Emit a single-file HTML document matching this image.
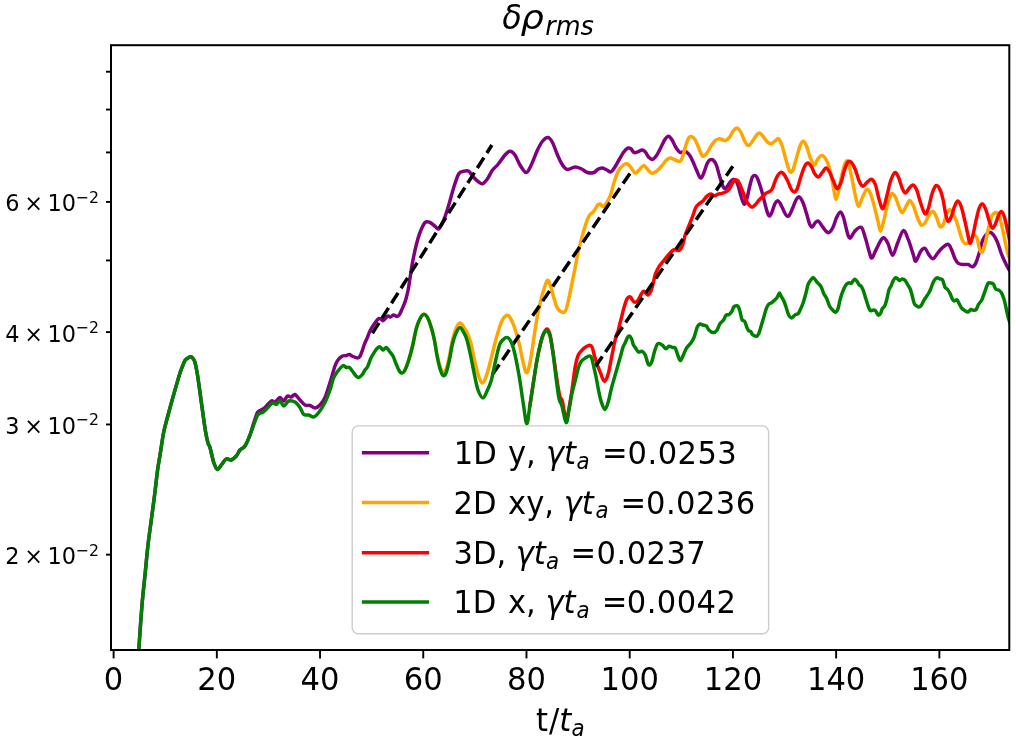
<!DOCTYPE html>
<html><head><meta charset="utf-8"><style>
html,body{margin:0;padding:0;background:#fff;}
svg{display:block;}
text{font-family:"DejaVu Sans","Liberation Sans",sans-serif;fill:#000;}
</style></head><body>
<svg width="1016" height="738" viewBox="0 0 1016 738">
<defs><clipPath id="ax"><rect x="111.0" y="45.2" width="898.30" height="604.80"/></clipPath></defs>
<rect width="1016" height="738" fill="#fff"/>
<g clip-path="url(#ax)">
<path d="M138.80,649.40 C139.33,642.00 140.97,617.40 142.00,605.00 C143.03,592.60 144.00,585.00 145.00,575.00 C146.00,565.00 146.95,554.17 148.00,545.00 C149.05,535.83 150.20,528.33 151.30,520.00 C152.40,511.67 153.55,503.33 154.60,495.00 C155.65,486.67 156.62,477.17 157.60,470.00 C158.58,462.83 159.47,458.33 160.50,452.00 C161.53,445.67 162.38,438.58 163.75,432.00 C165.12,425.42 166.88,419.50 168.75,412.50 C170.62,405.50 173.12,396.58 175.00,390.00 C176.88,383.42 178.75,376.96 180.00,373.00 C181.25,369.04 181.67,368.33 182.50,366.25 C183.33,364.17 184.08,361.88 185.00,360.50 C185.92,359.12 187.00,358.62 188.00,358.00 C189.00,357.38 190.17,356.72 191.00,356.80 C191.83,356.88 192.33,357.55 193.00,358.50 C193.67,359.45 194.25,359.75 195.00,362.50 C195.75,365.25 196.67,370.00 197.50,375.00 C198.33,380.00 199.07,385.83 200.00,392.50 C200.93,399.17 202.17,408.42 203.10,415.00 C204.03,421.58 204.78,427.33 205.60,432.00 C206.42,436.67 207.27,440.42 208.00,443.00 C208.73,445.58 209.04,444.25 210.00,447.50 C210.96,450.75 212.50,458.83 213.75,462.50 C215.00,466.17 216.25,469.08 217.50,469.50 C218.75,469.92 219.79,466.75 221.25,465.00 C222.71,463.25 224.58,459.83 226.25,459.00 C227.92,458.17 229.58,460.50 231.25,460.00 C232.92,459.50 234.79,457.67 236.25,456.00 C237.71,454.33 238.54,451.67 240.00,450.00 C241.46,448.33 243.33,448.50 245.00,446.00 C246.67,443.50 248.50,439.00 250.00,435.00 C251.50,431.00 252.75,425.75 254.00,422.00 C255.25,418.25 256.33,414.50 257.50,412.50 C258.67,410.50 259.75,410.83 261.00,410.00 C262.25,409.17 263.29,409.00 265.00,407.50 C266.71,406.00 269.58,401.92 271.25,401.00 C272.92,400.08 273.54,402.58 275.00,402.00 C276.46,401.42 278.54,397.67 280.00,397.50 C281.46,397.33 282.50,401.25 283.75,401.00 C285.00,400.75 286.25,396.67 287.50,396.00 C288.75,395.33 290.00,397.25 291.25,397.00 C292.50,396.75 293.54,394.00 295.00,394.50 C296.46,395.00 298.33,398.25 300.00,400.00 C301.67,401.75 303.33,404.08 305.00,405.00 C306.67,405.92 308.33,405.00 310.00,405.50 C311.67,406.00 313.33,408.08 315.00,408.00 C316.67,407.92 318.33,406.75 320.00,405.00 C321.67,403.25 323.33,401.25 325.00,397.50 C326.67,393.75 328.33,387.75 330.00,382.50 C331.67,377.25 333.67,369.75 335.00,366.00 C336.33,362.25 336.75,361.67 338.00,360.00 C339.25,358.33 341.12,356.73 342.50,356.00 C343.88,355.27 345.10,355.87 346.25,355.60 C347.40,355.33 348.36,354.29 349.40,354.40 C350.44,354.51 351.15,355.63 352.50,356.25 C353.85,356.87 356.25,358.10 357.50,358.10 C358.75,358.10 359.17,357.60 360.00,356.25 C360.83,354.90 361.82,351.88 362.50,350.00 C363.18,348.12 363.32,347.03 364.10,345.00 C364.88,342.97 366.18,340.22 367.20,337.80 C368.22,335.38 369.08,332.73 370.20,330.50 C371.32,328.27 372.67,326.23 373.90,324.40 C375.13,322.57 376.58,320.47 377.60,319.50 C378.62,318.53 379.10,318.40 380.00,318.60 C380.90,318.80 382.08,320.75 383.00,320.70 C383.92,320.65 384.68,319.10 385.50,318.30 C386.32,317.50 387.08,316.10 387.90,315.90 C388.72,315.70 389.48,317.27 390.40,317.10 C391.32,316.93 392.28,315.00 393.40,314.90 C394.52,314.80 396.08,316.55 397.10,316.50 C398.12,316.45 398.68,315.83 399.50,314.60 C400.32,313.37 401.18,310.92 402.00,309.10 C402.82,307.28 403.65,305.72 404.40,303.70 C405.15,301.68 405.82,299.62 406.50,297.00 C407.18,294.38 407.83,291.67 408.50,288.00 C409.17,284.33 409.83,279.25 410.50,275.00 C411.17,270.75 411.54,267.50 412.50,262.50 C413.46,257.50 415.00,250.00 416.25,245.00 C417.50,240.00 418.54,236.25 420.00,232.50 C421.46,228.75 423.33,224.17 425.00,222.50 C426.67,220.83 428.33,221.88 430.00,222.50 C431.67,223.12 433.54,225.21 435.00,226.25 C436.46,227.29 437.29,229.79 438.75,228.75 C440.21,227.71 442.08,223.96 443.75,220.00 C445.42,216.04 447.08,210.42 448.75,205.00 C450.42,199.58 452.08,192.71 453.75,187.50 C455.42,182.29 457.08,176.46 458.75,173.75 C460.42,171.04 462.08,171.67 463.75,171.25 C465.42,170.83 467.08,170.21 468.75,171.25 C470.42,172.29 472.08,175.71 473.75,177.50 C475.42,179.29 477.29,180.96 478.75,182.00 C480.21,183.04 481.04,184.29 482.50,183.75 C483.96,183.21 485.83,181.04 487.50,178.75 C489.17,176.46 490.83,172.29 492.50,170.00 C494.17,167.71 495.42,167.50 497.50,165.00 C499.58,162.50 502.92,157.29 505.00,155.00 C507.08,152.71 508.33,151.25 510.00,151.25 C511.67,151.25 513.33,152.71 515.00,155.00 C516.67,157.29 518.12,162.08 520.00,165.00 C521.88,167.92 524.38,172.50 526.25,172.50 C528.12,172.50 529.38,168.75 531.25,165.00 C533.12,161.25 535.62,153.96 537.50,150.00 C539.38,146.04 540.75,143.33 542.50,141.25 C544.25,139.17 546.33,137.29 548.00,137.50 C549.67,137.71 550.92,139.58 552.50,142.50 C554.08,145.42 555.83,151.25 557.50,155.00 C559.17,158.75 560.83,162.58 562.50,165.00 C564.17,167.42 565.42,169.17 567.50,169.50 C569.58,169.83 572.71,167.12 575.00,167.00 C577.29,166.88 579.17,167.83 581.25,168.75 C583.33,169.67 585.38,171.88 587.50,172.50 C589.62,173.12 592.29,173.02 594.00,172.50 C595.71,171.98 596.40,170.13 597.75,169.40 C599.10,168.67 600.64,168.04 602.10,168.10 C603.56,168.16 605.03,169.12 606.50,169.75 C607.97,170.38 609.55,172.28 610.90,171.90 C612.25,171.53 613.25,169.48 614.60,167.50 C615.95,165.52 617.53,162.50 619.00,160.00 C620.47,157.50 621.94,154.48 623.40,152.50 C624.86,150.52 626.50,148.72 627.75,148.10 C629.00,147.47 629.86,148.02 630.90,148.75 C631.94,149.48 632.86,151.97 634.00,152.50 C635.14,153.03 636.40,152.32 637.75,151.90 C639.10,151.48 640.85,150.00 642.10,150.00 C643.35,150.00 644.10,150.65 645.25,151.90 C646.40,153.15 647.75,156.25 649.00,157.50 C650.25,158.75 651.50,159.72 652.75,159.40 C654.00,159.08 655.25,157.38 656.50,155.60 C657.75,153.82 658.90,151.35 660.25,148.75 C661.60,146.15 663.24,142.08 664.60,140.00 C665.96,137.92 667.15,136.25 668.40,136.25 C669.65,136.25 670.85,138.12 672.10,140.00 C673.35,141.88 674.54,145.42 675.90,147.50 C677.26,149.58 678.80,151.88 680.25,152.50 C681.70,153.12 683.14,150.93 684.60,151.25 C686.06,151.57 687.64,152.73 689.00,154.40 C690.36,156.07 691.50,158.65 692.75,161.25 C694.00,163.85 695.29,167.29 696.50,170.00 C697.71,172.71 699.02,176.45 700.00,177.50 C700.98,178.55 701.58,177.58 702.40,176.30 C703.22,175.02 704.08,171.97 704.90,169.80 C705.72,167.63 706.49,164.93 707.30,163.30 C708.11,161.67 708.80,160.55 709.75,160.00 C710.70,159.45 711.91,159.18 713.00,160.00 C714.09,160.82 715.28,162.47 716.30,164.90 C717.32,167.33 718.30,171.90 719.10,174.60 C719.90,177.30 720.42,179.07 721.10,181.10 C721.78,183.13 722.52,185.57 723.20,186.80 C723.88,188.03 724.47,188.63 725.20,188.50 C725.93,188.37 726.65,187.23 727.60,186.00 C728.55,184.77 729.95,182.18 730.90,181.10 C731.85,180.02 732.48,179.63 733.30,179.50 C734.12,179.37 734.98,179.22 735.80,180.30 C736.62,181.38 737.39,183.55 738.20,186.00 C739.01,188.45 739.83,192.28 740.65,195.00 C741.47,197.72 742.42,200.82 743.10,202.30 C743.78,203.78 744.02,204.72 744.70,203.90 C745.38,203.08 746.38,200.25 747.20,197.40 C748.02,194.55 748.73,190.18 749.60,186.80 C750.47,183.42 751.52,179.00 752.40,177.10 C753.28,175.20 754.08,175.27 754.90,175.40 C755.72,175.53 756.42,176.13 757.30,177.90 C758.18,179.67 759.32,183.30 760.20,186.00 C761.08,188.70 761.80,191.12 762.60,194.10 C763.40,197.08 764.18,200.78 765.00,203.90 C765.82,207.02 766.75,210.77 767.50,212.80 C768.25,214.83 768.75,216.23 769.50,216.10 C770.25,215.97 771.12,214.03 772.00,212.00 C772.88,209.97 773.87,205.78 774.80,203.90 C775.73,202.02 776.73,200.83 777.60,200.70 C778.47,200.57 779.23,201.97 780.00,203.10 C780.77,204.23 781.25,205.52 782.25,207.50 C783.25,209.48 784.86,213.65 786.00,215.00 C787.14,216.35 787.95,216.85 789.10,215.60 C790.25,214.35 791.75,210.10 792.90,207.50 C794.05,204.90 794.97,201.77 796.00,200.00 C797.03,198.23 797.95,196.48 799.10,196.90 C800.25,197.32 801.65,199.69 802.90,202.50 C804.15,205.31 805.46,210.10 806.60,213.75 C807.74,217.40 808.81,222.21 809.75,224.40 C810.69,226.59 811.31,227.22 812.25,226.90 C813.19,226.58 814.36,223.44 815.40,222.50 C816.44,221.56 817.36,220.62 818.50,221.25 C819.64,221.88 821.00,224.58 822.25,226.25 C823.50,227.92 824.86,230.21 826.00,231.25 C827.14,232.29 827.95,233.12 829.10,232.50 C830.25,231.88 831.65,230.00 832.90,227.50 C834.15,225.00 835.35,220.10 836.60,217.50 C837.85,214.90 839.25,211.90 840.40,211.90 C841.55,211.90 842.57,214.90 843.50,217.50 C844.43,220.10 845.25,224.58 846.00,227.50 C846.75,230.42 847.25,233.25 848.00,235.00 C848.75,236.75 849.40,238.60 850.50,238.00 C851.60,237.40 852.82,233.18 854.60,231.40 C856.38,229.62 859.40,226.20 861.20,227.30 C863.00,228.40 864.02,233.73 865.40,238.00 C866.78,242.27 868.40,249.58 869.50,252.90 C870.60,256.22 870.90,258.45 872.00,257.90 C873.10,257.35 874.32,252.92 876.10,249.60 C877.88,246.28 880.77,239.10 882.70,238.00 C884.63,236.90 886.05,240.10 887.70,243.00 C889.35,245.90 890.95,255.40 892.60,255.40 C894.25,255.40 895.80,247.13 897.60,243.00 C899.40,238.87 901.62,231.15 903.40,230.60 C905.18,230.05 906.65,235.70 908.30,239.70 C909.95,243.70 912.05,251.02 913.30,254.60 C914.55,258.18 914.56,261.76 915.80,261.20 C917.04,260.64 919.22,253.38 920.75,251.25 C922.28,249.12 923.71,247.93 925.00,248.40 C926.29,248.88 927.15,252.38 928.50,254.10 C929.85,255.82 931.57,258.93 933.10,258.75 C934.63,258.57 936.17,254.82 937.70,253.00 C939.23,251.18 940.58,249.25 942.30,247.80 C944.02,246.35 946.47,244.02 948.00,244.30 C949.53,244.58 950.33,247.09 951.50,249.50 C952.67,251.91 953.85,256.43 955.00,258.75 C956.15,261.07 957.07,262.44 958.40,263.40 C959.73,264.36 961.37,264.32 963.00,264.50 C964.63,264.68 966.67,264.12 968.20,264.50 C969.73,264.88 970.95,266.98 972.20,266.80 C973.45,266.62 974.53,265.70 975.70,263.40 C976.87,261.10 978.05,256.85 979.20,253.00 C980.35,249.15 981.45,243.37 982.60,240.30 C983.75,237.23 984.85,235.95 986.10,234.60 C987.35,233.25 988.77,232.02 990.10,232.20 C991.43,232.38 992.85,233.97 994.10,235.70 C995.35,237.43 996.43,239.72 997.60,242.60 C998.77,245.48 999.95,249.92 1001.10,253.00 C1002.25,256.08 1003.35,258.60 1004.50,261.10 C1005.65,263.60 1006.92,266.02 1008.00,268.00 C1009.08,269.98 1010.50,272.17 1011.00,273.00" fill="none" stroke="#800080" stroke-width="3.47" stroke-linejoin="round" stroke-linecap="square"/>
<line x1="372.40" y1="333.30" x2="491.90" y2="145.00" stroke="#000" stroke-width="3.47" stroke-dasharray="12.3 5.5" stroke-linecap="butt"/>
<path d="M405.00,370.00 C405.62,368.33 407.50,363.96 408.75,360.00 C410.00,356.04 411.25,351.46 412.50,346.25 C413.75,341.04 415.00,333.33 416.25,328.75 C417.50,324.17 418.75,321.21 420.00,318.75 C421.25,316.29 422.50,314.21 423.75,314.00 C425.00,313.79 426.25,315.25 427.50,317.50 C428.75,319.75 430.10,323.75 431.25,327.50 C432.40,331.25 433.46,335.58 434.40,340.00 C435.34,344.42 435.97,349.67 436.90,354.00 C437.83,358.33 438.97,363.00 440.00,366.00 C441.03,369.00 442.06,371.50 443.10,372.00 C444.14,372.50 445.20,371.67 446.25,369.00 C447.30,366.33 448.36,360.83 449.40,356.00 C450.44,351.17 451.36,344.67 452.50,340.00 C453.64,335.33 455.00,330.83 456.25,328.00 C457.50,325.17 458.75,323.17 460.00,323.00 C461.25,322.83 462.58,325.42 463.75,327.00 C464.92,328.58 465.83,329.92 467.00,332.50 C468.17,335.08 469.50,337.92 470.75,342.50 C472.00,347.08 473.25,354.58 474.50,360.00 C475.75,365.42 477.00,371.17 478.25,375.00 C479.50,378.83 480.75,382.58 482.00,383.00 C483.25,383.42 484.29,381.33 485.75,377.50 C487.21,373.67 489.08,366.25 490.75,360.00 C492.42,353.75 494.08,346.04 495.75,340.00 C497.42,333.96 499.29,327.60 500.75,323.75 C502.21,319.90 503.25,318.26 504.50,316.90 C505.75,315.54 507.00,314.88 508.25,315.60 C509.50,316.33 510.75,318.64 512.00,321.25 C513.25,323.86 514.50,327.29 515.75,331.25 C517.00,335.21 518.36,340.21 519.50,345.00 C520.64,349.79 521.56,355.50 522.60,360.00 C523.64,364.50 524.81,370.33 525.75,372.00 C526.69,373.67 527.31,372.83 528.25,370.00 C529.19,367.17 530.36,361.04 531.40,355.00 C532.44,348.96 533.47,340.42 534.50,333.75 C535.53,327.08 536.68,319.96 537.60,315.00 C538.52,310.04 539.20,307.45 540.00,304.00 C540.80,300.55 541.18,298.22 542.40,294.30 C543.62,290.38 545.93,281.85 547.30,280.50 C548.67,279.15 549.52,283.35 550.60,286.20 C551.68,289.05 552.58,293.82 553.80,297.60 C555.02,301.38 556.13,306.47 557.90,308.90 C559.67,311.33 562.78,313.00 564.40,312.20 C566.02,311.40 566.38,308.70 567.60,304.10 C568.82,299.50 570.47,290.57 571.70,284.60 C572.93,278.63 573.92,273.73 575.00,268.30 C576.08,262.87 577.12,256.88 578.20,252.00 C579.28,247.12 580.42,243.07 581.50,239.00 C582.58,234.93 583.48,231.38 584.70,227.60 C585.92,223.82 587.30,219.00 588.80,216.30 C590.30,213.60 592.22,213.30 593.70,211.40 C595.18,209.50 596.65,206.13 597.70,204.90 C598.75,203.67 599.05,203.72 600.00,204.00 C600.95,204.28 602.11,207.10 603.40,206.60 C604.69,206.10 606.50,203.10 607.75,201.00 C609.00,198.90 610.11,196.17 610.90,194.00 C611.69,191.83 611.77,190.54 612.50,188.00 C613.23,185.46 614.17,181.75 615.25,178.75 C616.33,175.75 617.64,172.29 619.00,170.00 C620.36,167.71 622.05,166.04 623.40,165.00 C624.75,163.96 625.85,163.33 627.10,163.75 C628.35,164.17 629.54,165.94 630.90,167.50 C632.26,169.06 633.90,172.68 635.25,173.10 C636.60,173.52 637.64,171.25 639.00,170.00 C640.36,168.75 642.05,165.81 643.40,165.60 C644.75,165.39 645.75,167.50 647.10,168.75 C648.45,170.00 649.93,172.68 651.50,173.10 C653.07,173.52 654.83,172.39 656.50,171.25 C658.17,170.11 659.83,168.12 661.50,166.25 C663.17,164.38 665.04,161.36 666.50,160.00 C667.96,158.64 668.79,158.10 670.25,158.10 C671.71,158.10 673.58,159.47 675.25,160.00 C676.92,160.53 679.00,161.88 680.25,161.25 C681.50,160.62 681.81,158.96 682.75,156.25 C683.69,153.54 684.86,148.12 685.90,145.00 C686.94,141.88 687.97,138.85 689.00,137.50 C690.03,136.15 691.06,136.48 692.10,136.90 C693.14,137.32 694.10,138.03 695.25,140.00 C696.40,141.97 697.75,146.04 699.00,148.75 C700.25,151.46 701.50,155.42 702.75,156.25 C704.00,157.08 705.14,155.42 706.50,153.75 C707.86,152.08 709.44,148.44 710.90,146.25 C712.36,144.06 713.90,141.85 715.25,140.60 C716.60,139.35 718.04,139.02 719.00,138.75 C719.96,138.48 719.93,138.69 721.00,139.00 C722.07,139.31 723.94,140.95 725.40,140.60 C726.86,140.25 728.40,138.57 729.75,136.90 C731.10,135.23 732.25,132.07 733.50,130.60 C734.75,129.13 736.00,127.78 737.25,128.10 C738.50,128.42 739.75,130.31 741.00,132.50 C742.25,134.69 743.50,139.07 744.75,141.25 C746.00,143.43 747.14,145.71 748.50,145.60 C749.86,145.49 751.55,142.37 752.90,140.60 C754.25,138.83 755.46,136.25 756.60,135.00 C757.74,133.75 758.60,132.78 759.75,133.10 C760.90,133.42 762.25,135.43 763.50,136.90 C764.75,138.37 766.00,140.76 767.25,141.90 C768.50,143.04 769.75,143.86 771.00,143.75 C772.25,143.64 773.50,142.08 774.75,141.25 C776.00,140.42 777.25,137.92 778.50,138.75 C779.75,139.58 781.00,142.71 782.25,146.25 C783.50,149.79 784.75,155.83 786.00,160.00 C787.25,164.17 788.60,169.58 789.75,171.25 C790.90,172.92 791.76,172.29 792.90,170.00 C794.04,167.71 795.35,161.67 796.60,157.50 C797.85,153.33 799.25,147.71 800.40,145.00 C801.55,142.29 802.47,141.04 803.50,141.25 C804.53,141.46 805.56,143.75 806.60,146.25 C807.64,148.75 808.50,153.12 809.75,156.25 C811.00,159.38 812.85,164.38 814.10,165.00 C815.35,165.62 816.10,161.57 817.25,160.00 C818.40,158.43 819.75,156.02 821.00,155.60 C822.25,155.18 823.50,155.93 824.75,157.50 C826.00,159.07 827.36,161.67 828.50,165.00 C829.64,168.33 830.67,173.12 831.60,177.50 C832.53,181.88 833.37,187.60 834.10,191.25 C834.83,194.90 835.27,199.40 836.00,199.40 C836.73,199.40 837.67,194.69 838.50,191.25 C839.33,187.81 840.07,182.92 841.00,178.75 C841.93,174.58 843.18,169.21 844.10,166.25 C845.02,163.29 845.77,161.54 846.50,161.00 C847.23,160.46 847.62,160.25 848.50,163.00 C849.38,165.75 850.58,171.96 851.75,177.50 C852.92,183.04 854.36,191.46 855.50,196.25 C856.64,201.04 857.45,206.04 858.60,206.25 C859.75,206.46 861.04,200.31 862.40,197.50 C863.76,194.69 865.40,190.03 866.75,189.40 C868.10,188.78 869.25,190.94 870.50,193.75 C871.75,196.56 873.00,201.67 874.25,206.25 C875.50,210.83 876.96,217.08 878.00,221.25 C879.04,225.42 879.57,231.25 880.50,231.25 C881.43,231.25 882.35,226.04 883.60,221.25 C884.85,216.46 886.64,207.08 888.00,202.50 C889.36,197.92 890.50,194.58 891.75,193.75 C893.00,192.92 894.25,195.21 895.50,197.50 C896.75,199.79 898.10,205.00 899.25,207.50 C900.40,210.00 901.15,212.92 902.40,212.50 C903.65,212.08 905.50,206.98 906.75,205.00 C908.00,203.02 908.76,200.39 909.90,200.60 C911.04,200.81 912.35,203.43 913.60,206.25 C914.85,209.07 916.15,214.38 917.40,217.50 C918.65,220.62 919.83,224.08 921.10,225.00 C922.37,225.92 923.68,224.67 925.00,223.00 C926.32,221.33 927.65,216.92 929.00,215.00 C930.35,213.08 931.85,211.12 933.10,211.50 C934.35,211.88 935.35,214.80 936.50,217.30 C937.65,219.80 938.85,225.35 940.00,226.50 C941.15,227.65 942.25,226.50 943.40,224.20 C944.55,221.90 945.83,215.10 946.90,212.70 C947.97,210.30 948.75,209.62 949.80,209.80 C950.85,209.98 952.05,211.78 953.20,213.80 C954.35,215.82 955.55,218.63 956.70,221.90 C957.85,225.17 959.05,230.13 960.10,233.40 C961.15,236.67 962.03,239.77 963.00,241.50 C963.97,243.23 964.75,243.80 965.90,243.80 C967.05,243.80 968.65,242.85 969.90,241.50 C971.15,240.15 972.23,236.28 973.40,235.70 C974.57,235.12 975.85,235.70 976.90,238.00 C977.95,240.30 978.85,247.10 979.70,249.50 C980.55,251.90 981.13,253.17 982.00,252.40 C982.87,251.63 983.93,248.45 984.90,244.90 C985.87,241.35 986.73,235.70 987.80,231.10 C988.87,226.50 990.05,220.37 991.30,217.30 C992.55,214.23 994.06,213.08 995.30,212.70 C996.54,212.32 997.78,213.28 998.75,215.00 C999.72,216.72 1000.24,219.55 1001.10,223.00 C1001.96,226.45 1003.05,231.67 1003.90,235.70 C1004.75,239.73 1005.52,244.13 1006.20,247.20 C1006.88,250.27 1007.20,251.63 1008.00,254.10 C1008.80,256.57 1010.50,260.68 1011.00,262.00" fill="none" stroke="#ffa500" stroke-width="3.47" stroke-linejoin="round" stroke-linecap="square"/>
<line x1="492.40" y1="374.60" x2="630.40" y2="172.80" stroke="#000" stroke-width="3.47" stroke-dasharray="12.3 5.5" stroke-linecap="butt"/>
<path d="M530.00,405.00 C530.58,401.17 532.33,389.50 533.50,382.00 C534.67,374.50 535.79,366.58 537.00,360.00 C538.21,353.42 539.60,346.98 540.75,342.50 C541.90,338.02 542.86,335.35 543.90,333.10 C544.94,330.85 545.97,328.68 547.00,329.00 C548.03,329.32 549.06,330.83 550.10,335.00 C551.14,339.17 552.10,346.50 553.25,354.00 C554.40,361.50 555.91,373.00 557.00,380.00 C558.09,387.00 558.92,392.50 559.80,396.00 C560.68,399.50 561.25,397.03 562.30,401.00 C563.35,404.97 564.98,418.63 566.10,419.80 C567.22,420.97 568.02,412.97 569.00,408.00 C569.98,403.03 570.97,396.87 572.00,390.00 C573.03,383.13 574.20,372.52 575.20,366.80 C576.20,361.08 576.97,358.37 578.00,355.70 C579.03,353.03 580.23,352.17 581.40,350.80 C582.57,349.43 583.65,348.42 585.00,347.50 C586.35,346.58 588.32,345.37 589.50,345.30 C590.68,345.23 591.23,345.18 592.10,347.10 C592.97,349.02 593.77,353.68 594.70,356.80 C595.63,359.92 596.72,363.07 597.70,365.80 C598.68,368.53 599.73,370.97 600.60,373.20 C601.47,375.43 602.22,377.83 602.90,379.20 C603.58,380.57 604.02,381.65 604.70,381.40 C605.38,381.15 606.32,379.32 607.00,377.70 C607.68,376.08 608.12,374.68 608.80,371.70 C609.48,368.72 610.35,363.65 611.10,359.80 C611.85,355.95 612.62,351.95 613.30,348.60 C613.98,345.25 614.63,342.05 615.20,339.70 C615.77,337.35 616.20,336.00 616.70,334.50 C617.20,333.00 617.73,332.28 618.20,330.70 C618.67,329.12 618.95,327.20 619.50,325.00 C620.05,322.80 620.75,320.42 621.50,317.50 C622.25,314.58 623.07,310.62 624.00,307.50 C624.93,304.38 626.06,300.52 627.10,298.75 C628.14,296.98 629.10,296.38 630.25,296.90 C631.40,297.42 632.75,301.28 634.00,301.90 C635.25,302.52 636.50,301.96 637.75,300.60 C639.00,299.24 640.46,295.31 641.50,293.75 C642.54,292.19 642.96,291.04 644.00,291.25 C645.04,291.46 646.60,295.00 647.75,295.00 C648.90,295.00 650.07,292.92 650.90,291.25 C651.73,289.58 652.13,287.38 652.75,285.00 C653.37,282.62 654.12,278.92 654.60,277.00 C655.08,275.08 654.87,275.23 655.60,273.50 C656.33,271.77 657.70,268.68 659.00,266.60 C660.30,264.52 661.73,263.08 663.40,261.00 C665.07,258.92 667.23,255.97 669.00,254.10 C670.77,252.22 672.33,250.37 674.00,249.75 C675.67,249.13 677.54,251.23 679.00,250.40 C680.46,249.57 681.71,247.36 682.75,244.75 C683.79,242.14 684.21,237.97 685.25,234.75 C686.29,231.53 687.75,228.53 689.00,225.40 C690.25,222.28 691.60,219.03 692.75,216.00 C693.90,212.97 694.69,209.40 695.90,207.25 C697.11,205.10 698.77,204.20 700.00,203.10 C701.23,202.00 702.17,201.73 703.25,200.65 C704.33,199.57 705.27,197.69 706.50,196.60 C707.73,195.51 709.25,194.23 710.60,194.10 C711.95,193.97 713.38,195.80 714.60,195.80 C715.82,195.80 716.67,194.52 717.90,194.10 C719.13,193.68 720.65,193.70 722.00,193.30 C723.35,192.90 724.78,192.37 726.00,191.70 C727.22,191.03 728.28,190.65 729.30,189.30 C730.32,187.95 731.15,185.17 732.10,183.60 C733.05,182.03 734.05,180.38 735.00,179.90 C735.95,179.42 736.93,179.82 737.80,180.70 C738.67,181.58 739.32,183.23 740.20,185.20 C741.08,187.17 742.15,190.07 743.10,192.50 C744.05,194.93 744.95,197.77 745.90,199.80 C746.85,201.83 747.78,203.47 748.80,204.70 C749.82,205.93 750.92,207.20 752.00,207.20 C753.08,207.20 754.22,205.79 755.30,204.70 C756.38,203.61 757.28,202.00 758.50,200.65 C759.72,199.30 761.38,197.82 762.60,196.60 C763.83,195.38 764.63,194.18 765.85,193.30 C767.07,192.42 768.81,192.10 769.90,191.30 C770.99,190.50 771.58,190.05 772.40,188.50 C773.22,186.95 774.00,184.03 774.80,182.00 C775.60,179.97 776.27,177.88 777.20,176.30 C778.13,174.72 779.35,172.93 780.40,172.50 C781.45,172.07 782.36,172.50 783.50,173.75 C784.64,175.00 786.00,177.50 787.25,180.00 C788.50,182.50 789.86,186.77 791.00,188.75 C792.14,190.73 793.06,191.90 794.10,191.90 C795.14,191.90 796.10,191.36 797.25,188.75 C798.40,186.14 799.75,180.00 801.00,176.25 C802.25,172.50 803.60,168.44 804.75,166.25 C805.90,164.06 806.76,162.99 807.90,163.10 C809.04,163.21 810.46,165.12 811.60,166.90 C812.74,168.68 813.60,172.08 814.75,173.75 C815.90,175.42 817.25,177.11 818.50,176.90 C819.75,176.69 821.00,173.97 822.25,172.50 C823.50,171.03 824.75,168.10 826.00,168.10 C827.25,168.10 828.50,170.31 829.75,172.50 C831.00,174.69 832.25,178.54 833.50,181.25 C834.75,183.96 836.00,188.54 837.25,188.75 C838.50,188.96 839.86,185.42 841.00,182.50 C842.14,179.58 843.02,174.58 844.10,171.25 C845.18,167.92 846.52,164.12 847.50,162.50 C848.48,160.88 849.17,161.25 850.00,161.50 C850.83,161.75 851.58,162.58 852.50,164.00 C853.42,165.42 854.38,167.12 855.50,170.00 C856.62,172.88 858.00,178.54 859.25,181.25 C860.50,183.96 861.64,186.14 863.00,186.25 C864.36,186.36 865.94,183.04 867.40,181.90 C868.86,180.76 870.40,178.88 871.75,179.40 C873.10,179.92 874.25,181.57 875.50,185.00 C876.75,188.43 878.00,196.04 879.25,200.00 C880.50,203.96 881.75,209.38 883.00,208.75 C884.25,208.12 885.50,200.83 886.75,196.25 C888.00,191.67 889.14,185.21 890.50,181.25 C891.86,177.29 893.55,173.12 894.90,172.50 C896.25,171.88 897.35,174.79 898.60,177.50 C899.85,180.21 901.25,186.15 902.40,188.75 C903.55,191.35 904.36,193.21 905.50,193.10 C906.64,192.99 908.00,189.45 909.25,188.10 C910.50,186.75 911.75,184.68 913.00,185.00 C914.25,185.32 915.50,187.08 916.75,190.00 C918.00,192.92 919.12,198.53 920.50,202.50 C921.88,206.47 923.67,212.88 925.00,213.80 C926.33,214.72 927.35,211.27 928.50,208.00 C929.65,204.73 930.65,197.93 931.90,194.20 C933.15,190.47 934.65,186.37 936.00,185.60 C937.35,184.83 938.85,187.40 940.00,189.60 C941.15,191.80 942.03,195.15 942.90,198.80 C943.77,202.45 944.35,207.75 945.20,211.50 C946.05,215.25 946.95,220.53 948.00,221.30 C949.05,222.07 950.43,218.50 951.50,216.10 C952.57,213.70 953.35,209.40 954.40,206.90 C955.45,204.40 956.65,201.10 957.80,201.10 C958.95,201.10 960.13,203.63 961.30,206.90 C962.47,210.17 963.75,216.28 964.80,220.70 C965.85,225.12 966.75,229.65 967.60,233.40 C968.45,237.15 969.03,242.82 969.90,243.20 C970.77,243.58 971.83,239.25 972.80,235.70 C973.77,232.15 974.63,226.52 975.70,221.90 C976.77,217.28 978.05,210.98 979.20,208.00 C980.35,205.02 981.45,203.60 982.60,204.00 C983.75,204.40 984.95,207.42 986.10,210.40 C987.25,213.38 988.45,218.93 989.50,221.90 C990.55,224.87 991.43,227.82 992.40,228.20 C993.37,228.58 994.24,226.40 995.30,224.20 C996.36,222.00 997.70,217.12 998.75,215.00 C999.80,212.88 1000.64,211.12 1001.60,211.50 C1002.56,211.88 1003.53,214.23 1004.50,217.30 C1005.47,220.37 1006.63,226.45 1007.40,229.90 C1008.17,233.35 1008.50,235.15 1009.10,238.00 C1009.70,240.85 1010.68,245.50 1011.00,247.00" fill="none" stroke="#ff0000" stroke-width="3.47" stroke-linejoin="round" stroke-linecap="square"/>
<line x1="595.40" y1="366.60" x2="732.80" y2="166.30" stroke="#000" stroke-width="3.47" stroke-dasharray="12.3 5.5" stroke-linecap="butt"/>
<path d="M138.80,649.40 C139.33,642.00 140.97,617.40 142.00,605.00 C143.03,592.60 144.00,585.00 145.00,575.00 C146.00,565.00 146.95,554.17 148.00,545.00 C149.05,535.83 150.20,528.33 151.30,520.00 C152.40,511.67 153.55,503.33 154.60,495.00 C155.65,486.67 156.62,477.17 157.60,470.00 C158.58,462.83 159.47,458.33 160.50,452.00 C161.53,445.67 162.38,438.58 163.75,432.00 C165.12,425.42 166.88,419.50 168.75,412.50 C170.62,405.50 173.12,396.58 175.00,390.00 C176.88,383.42 178.75,376.96 180.00,373.00 C181.25,369.04 181.67,368.33 182.50,366.25 C183.33,364.17 184.08,361.88 185.00,360.50 C185.92,359.12 187.00,358.62 188.00,358.00 C189.00,357.38 190.17,356.72 191.00,356.80 C191.83,356.88 192.33,357.55 193.00,358.50 C193.67,359.45 194.25,359.75 195.00,362.50 C195.75,365.25 196.67,370.00 197.50,375.00 C198.33,380.00 199.07,385.83 200.00,392.50 C200.93,399.17 202.17,408.42 203.10,415.00 C204.03,421.58 204.78,427.33 205.60,432.00 C206.42,436.67 207.27,440.42 208.00,443.00 C208.73,445.58 209.04,444.25 210.00,447.50 C210.96,450.75 212.50,458.83 213.75,462.50 C215.00,466.17 216.25,469.08 217.50,469.50 C218.75,469.92 219.79,466.75 221.25,465.00 C222.71,463.25 224.58,459.83 226.25,459.00 C227.92,458.17 229.58,460.50 231.25,460.00 C232.92,459.50 234.79,457.67 236.25,456.00 C237.71,454.33 238.54,451.67 240.00,450.00 C241.46,448.33 243.33,448.50 245.00,446.00 C246.67,443.50 247.92,440.08 250.00,435.00 C252.08,429.92 255.42,419.25 257.50,415.50 C259.58,411.75 260.83,413.75 262.50,412.50 C264.17,411.25 265.83,409.58 267.50,408.00 C269.17,406.42 271.04,403.58 272.50,403.00 C273.96,402.42 275.00,404.83 276.25,404.50 C277.50,404.17 278.75,400.75 280.00,401.00 C281.25,401.25 282.29,406.00 283.75,406.00 C285.21,406.00 286.88,401.67 288.75,401.00 C290.62,400.33 293.12,400.92 295.00,402.00 C296.88,403.08 298.54,405.42 300.00,407.50 C301.46,409.58 302.29,413.25 303.75,414.50 C305.21,415.75 307.08,414.58 308.75,415.00 C310.42,415.42 312.08,417.42 313.75,417.00 C315.42,416.58 316.88,414.92 318.75,412.50 C320.62,410.08 323.12,406.25 325.00,402.50 C326.88,398.75 328.54,394.17 330.00,390.00 C331.46,385.83 332.29,380.83 333.75,377.50 C335.21,374.17 337.19,371.98 338.75,370.00 C340.31,368.02 341.85,366.02 343.10,365.60 C344.35,365.18 345.20,367.18 346.25,367.50 C347.30,367.82 348.36,366.88 349.40,367.50 C350.44,368.12 351.36,369.79 352.50,371.25 C353.64,372.71 355.21,375.21 356.25,376.25 C357.29,377.29 357.81,377.71 358.75,377.50 C359.69,377.29 360.86,376.25 361.90,375.00 C362.94,373.75 364.07,371.35 365.00,370.00 C365.93,368.65 366.57,368.77 367.50,366.90 C368.43,365.02 369.56,361.05 370.60,358.75 C371.64,356.45 372.60,354.88 373.75,353.10 C374.90,351.33 376.46,349.13 377.50,348.10 C378.54,347.07 379.07,346.58 380.00,346.90 C380.93,347.22 382.06,349.90 383.10,350.00 C384.14,350.10 385.20,347.29 386.25,347.50 C387.30,347.71 388.26,349.79 389.40,351.25 C390.54,352.71 392.07,354.38 393.10,356.25 C394.13,358.12 394.66,360.21 395.60,362.50 C396.54,364.79 397.70,368.23 398.75,370.00 C399.80,371.77 400.86,373.10 401.90,373.10 C402.94,373.10 403.86,372.18 405.00,370.00 C406.14,367.82 407.50,363.96 408.75,360.00 C410.00,356.04 411.25,351.46 412.50,346.25 C413.75,341.04 415.00,333.33 416.25,328.75 C417.50,324.17 418.75,321.14 420.00,318.75 C421.25,316.36 422.50,314.61 423.75,314.40 C425.00,314.19 426.25,315.32 427.50,317.50 C428.75,319.68 430.10,323.75 431.25,327.50 C432.40,331.25 433.46,335.42 434.40,340.00 C435.34,344.58 435.97,350.21 436.90,355.00 C437.83,359.79 438.97,365.32 440.00,368.75 C441.03,372.18 442.06,374.98 443.10,375.60 C444.14,376.23 445.20,375.10 446.25,372.50 C447.30,369.90 448.36,364.79 449.40,360.00 C450.44,355.21 451.36,348.33 452.50,343.75 C453.64,339.17 455.00,335.21 456.25,332.50 C457.50,329.79 458.75,327.50 460.00,327.50 C461.25,327.50 462.58,330.42 463.75,332.50 C464.92,334.58 465.83,336.04 467.00,340.00 C468.17,343.96 469.50,350.42 470.75,356.25 C472.00,362.08 473.29,369.38 474.50,375.00 C475.71,380.62 476.60,386.17 478.00,390.00 C479.40,393.83 481.32,398.00 482.90,398.00 C484.48,398.00 486.08,393.00 487.50,390.00 C488.92,387.00 490.02,385.00 491.40,380.00 C492.77,375.00 494.40,365.83 495.75,360.00 C497.10,354.17 498.25,348.43 499.50,345.00 C500.75,341.57 501.90,340.65 503.25,339.40 C504.60,338.15 506.24,336.98 507.60,337.50 C508.96,338.02 510.25,340.00 511.40,342.50 C512.55,345.00 513.47,348.33 514.50,352.50 C515.53,356.67 516.67,362.58 517.60,367.50 C518.53,372.42 519.12,375.75 520.10,382.00 C521.08,388.25 522.38,398.03 523.50,405.00 C524.62,411.97 525.72,423.80 526.80,423.80 C527.88,423.80 528.88,411.97 530.00,405.00 C531.12,398.03 532.33,389.50 533.50,382.00 C534.67,374.50 535.79,366.58 537.00,360.00 C538.21,353.42 539.60,346.98 540.75,342.50 C541.90,338.02 542.86,335.08 543.90,333.10 C544.94,331.12 545.97,330.08 547.00,330.60 C548.03,331.12 549.06,332.18 550.10,336.25 C551.14,340.32 552.20,347.59 553.25,355.00 C554.30,362.41 555.42,373.38 556.40,380.70 C557.38,388.02 558.18,394.72 559.10,398.90 C560.02,403.08 560.73,401.85 561.90,405.80 C563.07,409.75 564.92,421.90 566.10,422.60 C567.28,423.30 568.07,414.65 569.00,410.00 C569.93,405.35 570.55,400.03 571.70,394.70 C572.85,389.37 574.73,382.65 575.90,378.00 C577.07,373.35 577.78,369.60 578.70,366.80 C579.62,364.00 580.35,362.62 581.40,361.20 C582.45,359.78 583.65,359.15 585.00,358.30 C586.35,357.45 588.38,356.10 589.50,356.10 C590.62,356.10 590.97,356.43 591.70,358.30 C592.43,360.17 593.15,364.07 593.90,367.30 C594.65,370.53 595.43,373.92 596.20,377.70 C596.97,381.48 597.70,386.12 598.50,390.00 C599.30,393.88 599.93,397.77 601.00,401.00 C602.07,404.23 603.65,409.40 604.90,409.40 C606.15,409.40 607.48,404.23 608.50,401.00 C609.52,397.77 609.95,394.13 611.00,390.00 C612.05,385.87 613.67,380.23 614.80,376.20 C615.93,372.17 616.80,369.28 617.80,365.80 C618.80,362.32 619.93,358.42 620.80,355.30 C621.67,352.18 622.27,349.20 623.00,347.10 C623.73,345.00 624.45,344.30 625.20,342.70 C625.95,341.10 626.82,338.62 627.50,337.50 C628.18,336.38 628.62,335.77 629.30,336.00 C629.98,336.23 630.92,337.42 631.60,338.90 C632.28,340.38 632.79,343.47 633.40,344.90 C634.01,346.33 634.42,346.33 635.25,347.50 C636.08,348.67 637.26,351.27 638.40,351.90 C639.54,352.52 640.96,350.73 642.10,351.25 C643.24,351.77 644.20,352.81 645.25,355.00 C646.30,357.19 647.36,363.15 648.40,364.40 C649.44,365.65 650.47,364.69 651.50,362.50 C652.53,360.31 653.56,354.38 654.60,351.25 C655.64,348.12 656.50,344.79 657.75,343.75 C659.00,342.71 660.74,344.17 662.10,345.00 C663.46,345.83 664.75,348.54 665.90,348.75 C667.05,348.96 667.86,346.46 669.00,346.25 C670.14,346.04 671.71,347.19 672.75,347.50 C673.79,347.81 674.42,346.85 675.25,348.10 C676.08,349.35 676.92,352.92 677.75,355.00 C678.58,357.08 679.31,360.60 680.25,360.60 C681.19,360.60 682.36,357.08 683.40,355.00 C684.44,352.92 685.25,350.08 686.50,348.10 C687.75,346.12 689.65,344.87 690.90,343.10 C692.15,341.33 692.97,340.10 694.00,337.50 C695.03,334.90 696.14,329.73 697.10,327.50 C698.06,325.27 698.80,324.52 699.75,324.10 C700.70,323.68 701.67,324.65 702.80,325.00 C703.92,325.35 705.48,325.38 706.50,326.20 C707.52,327.02 707.78,328.83 708.90,329.90 C710.02,330.97 711.88,332.50 713.20,332.60 C714.52,332.70 715.68,331.97 716.80,330.50 C717.92,329.03 718.78,325.53 719.90,323.80 C721.02,322.07 722.48,321.53 723.50,320.10 C724.52,318.67 725.08,316.12 726.00,315.20 C726.92,314.28 727.98,315.30 729.00,314.60 C730.02,313.90 731.28,312.32 732.10,311.00 C732.92,309.68 733.08,307.57 733.90,306.70 C734.72,305.83 736.20,305.68 737.00,305.80 C737.80,305.92 738.15,306.27 738.70,307.40 C739.25,308.53 739.75,310.57 740.30,312.60 C740.85,314.63 741.25,318.10 742.00,319.60 C742.75,321.10 744.00,320.32 744.80,321.60 C745.60,322.88 746.18,325.82 746.80,327.30 C747.42,328.78 747.82,329.76 748.50,330.50 C749.18,331.24 750.23,331.07 750.90,331.75 C751.57,332.43 751.55,333.86 752.50,334.60 C753.45,335.34 755.52,336.47 756.60,336.20 C757.68,335.93 758.18,334.90 759.00,333.00 C759.82,331.10 760.68,327.52 761.50,324.80 C762.32,322.08 763.10,319.40 763.90,316.70 C764.70,314.00 765.48,310.70 766.30,308.60 C767.12,306.50 767.85,305.12 768.80,304.10 C769.75,303.08 770.92,303.25 772.00,302.50 C773.08,301.75 774.42,300.48 775.30,299.60 C776.18,298.72 776.62,298.28 777.30,297.20 C777.97,296.12 778.73,293.30 779.35,293.10 C779.97,292.90 780.23,294.63 781.00,296.00 C781.77,297.37 783.08,299.22 784.00,301.30 C784.92,303.38 785.72,306.22 786.50,308.50 C787.28,310.78 787.85,313.43 788.70,315.00 C789.55,316.57 790.48,317.97 791.60,317.90 C792.72,317.83 794.30,315.32 795.40,314.60 C796.50,313.88 797.35,314.53 798.20,313.60 C799.05,312.67 799.70,310.73 800.50,309.00 C801.30,307.27 802.12,305.75 803.00,303.20 C803.88,300.65 804.93,296.87 805.80,293.70 C806.67,290.53 807.42,286.40 808.20,284.20 C808.98,282.00 809.63,281.60 810.50,280.50 C811.37,279.40 812.37,277.37 813.40,277.60 C814.43,277.83 815.43,280.40 816.70,281.90 C817.97,283.40 819.82,284.63 821.00,286.60 C822.18,288.57 822.85,291.72 823.80,293.70 C824.75,295.68 825.75,296.45 826.70,298.50 C827.65,300.55 828.40,303.95 829.50,306.00 C830.60,308.05 832.27,309.77 833.30,310.80 C834.33,311.83 834.92,312.52 835.70,312.20 C836.48,311.88 837.22,311.18 838.00,308.90 C838.78,306.62 839.44,301.82 840.40,298.50 C841.36,295.18 842.72,291.38 843.75,289.00 C844.78,286.62 845.66,285.23 846.60,284.20 C847.54,283.17 848.62,282.97 849.40,282.80 C850.18,282.63 850.45,283.78 851.30,283.20 C852.15,282.62 853.55,279.62 854.50,279.30 C855.45,278.98 856.25,280.42 857.00,281.30 C857.75,282.18 858.25,283.70 859.00,284.60 C859.75,285.50 860.75,285.62 861.50,286.70 C862.25,287.78 862.75,289.00 863.50,291.10 C864.25,293.20 865.18,296.70 866.00,299.30 C866.82,301.90 867.72,304.83 868.40,306.70 C869.08,308.57 869.48,309.90 870.10,310.50 C870.72,311.10 871.28,310.33 872.10,310.30 C872.92,310.27 874.18,309.82 875.00,310.30 C875.82,310.78 876.40,312.38 877.00,313.20 C877.60,314.02 877.98,315.20 878.60,315.20 C879.22,315.20 880.08,314.28 880.70,313.20 C881.32,312.12 881.62,309.92 882.30,308.70 C882.98,307.48 884.05,307.42 884.80,305.85 C885.55,304.28 886.12,301.89 886.80,299.30 C887.47,296.71 888.17,292.48 888.85,290.30 C889.53,288.12 890.16,287.83 890.90,286.20 C891.64,284.57 892.55,281.92 893.30,280.50 C894.05,279.08 894.72,278.03 895.40,277.70 C896.08,277.37 896.72,278.03 897.40,278.50 C898.08,278.97 898.68,280.43 899.50,280.50 C900.32,280.57 901.35,278.90 902.30,278.90 C903.25,278.90 904.32,279.55 905.20,280.50 C906.08,281.45 906.78,283.23 907.60,284.60 C908.42,285.97 909.35,286.93 910.10,288.70 C910.85,290.47 911.42,292.75 912.10,295.20 C912.78,297.65 913.45,301.62 914.20,303.40 C914.95,305.17 915.78,305.23 916.60,305.85 C917.42,306.47 918.28,307.24 919.10,307.10 C919.92,306.96 920.68,306.17 921.50,305.00 C922.32,303.83 923.12,301.60 924.00,300.10 C924.88,298.60 926.05,297.10 926.80,296.00 C927.55,294.90 927.88,294.58 928.50,293.50 C929.12,292.42 929.77,291.25 930.50,289.50 C931.23,287.75 932.08,284.77 932.90,283.00 C933.72,281.23 934.65,279.78 935.40,278.90 C936.15,278.02 936.67,277.70 937.40,277.70 C938.13,277.70 938.98,278.57 939.80,278.90 C940.62,279.23 941.62,278.88 942.30,279.70 C942.98,280.52 943.42,282.50 943.90,283.80 C944.38,285.10 944.58,286.55 945.20,287.50 C945.82,288.45 946.78,288.48 947.60,289.50 C948.42,290.52 949.28,291.97 950.10,293.60 C950.92,295.23 951.75,298.08 952.50,299.30 C953.25,300.52 953.85,300.83 954.60,300.90 C955.35,300.97 956.27,299.28 957.00,299.70 C957.73,300.12 958.25,302.03 959.00,303.40 C959.75,304.77 960.60,306.75 961.50,307.90 C962.40,309.05 963.32,309.62 964.40,310.30 C965.48,310.98 966.92,312.13 968.00,312.00 C969.08,311.87 970.02,309.78 970.90,309.50 C971.78,309.22 972.42,310.30 973.30,310.30 C974.18,310.30 975.31,310.52 976.20,309.50 C977.09,308.48 977.77,305.70 978.65,304.20 C979.53,302.70 980.67,302.00 981.50,300.50 C982.33,299.00 982.92,297.03 983.60,295.20 C984.28,293.37 984.87,291.47 985.60,289.50 C986.33,287.53 987.18,284.48 988.00,283.40 C988.82,282.32 989.60,282.87 990.50,283.00 C991.40,283.13 992.52,283.18 993.40,284.20 C994.28,285.22 994.85,288.08 995.80,289.10 C996.75,290.12 998.15,289.68 999.10,290.30 C1000.05,290.92 1000.68,291.30 1001.50,292.80 C1002.32,294.30 1003.25,296.85 1004.00,299.30 C1004.75,301.75 1005.32,304.50 1006.00,307.50 C1006.68,310.50 1007.48,314.85 1008.10,317.30 C1008.72,319.75 1009.05,320.08 1009.70,322.20 C1010.35,324.32 1011.62,328.70 1012.00,330.00" fill="none" stroke="#008000" stroke-width="3.47" stroke-linejoin="round" stroke-linecap="square"/>
</g>
<g stroke="#000" stroke-width="1.9">
<line x1="113.60" y1="650.00" x2="113.60" y2="658.40"/>
<line x1="216.82" y1="650.00" x2="216.82" y2="658.40"/>
<line x1="320.04" y1="650.00" x2="320.04" y2="658.40"/>
<line x1="423.26" y1="650.00" x2="423.26" y2="658.40"/>
<line x1="526.48" y1="650.00" x2="526.48" y2="658.40"/>
<line x1="629.70" y1="650.00" x2="629.70" y2="658.40"/>
<line x1="732.92" y1="650.00" x2="732.92" y2="658.40"/>
<line x1="836.14" y1="650.00" x2="836.14" y2="658.40"/>
<line x1="939.36" y1="650.00" x2="939.36" y2="658.40"/>
<line x1="106.00" y1="554.65" x2="111.00" y2="554.65"/>
<line x1="106.00" y1="424.46" x2="111.00" y2="424.46"/>
<line x1="106.00" y1="332.10" x2="111.00" y2="332.10"/>
<line x1="106.00" y1="260.45" x2="111.00" y2="260.45"/>
<line x1="106.00" y1="201.91" x2="111.00" y2="201.91"/>
<line x1="106.00" y1="152.42" x2="111.00" y2="152.42"/>
<line x1="106.00" y1="109.55" x2="111.00" y2="109.55"/>
<line x1="106.00" y1="71.73" x2="111.00" y2="71.73"/>
</g>
<rect x="111.0" y="45.2" width="898.30" height="604.80" fill="none" stroke="#000" stroke-width="2.0" stroke-linejoin="miter"/>
<rect x="352.2" y="425.9" width="416.4" height="207.9" rx="6.1" ry="6.1" fill="#fff" fill-opacity="0.8" stroke="#cccccc" stroke-width="1.39"/>
<line x1="363.6" y1="452.70" x2="427.4" y2="452.70" stroke="#800080" stroke-width="3.47" stroke-linecap="square"/>
<line x1="363.6" y1="502.50" x2="427.4" y2="502.50" stroke="#ffa500" stroke-width="3.47" stroke-linecap="square"/>
<line x1="363.6" y1="552.80" x2="427.4" y2="552.80" stroke="#ff0000" stroke-width="3.47" stroke-linecap="square"/>
<line x1="363.6" y1="602.00" x2="427.4" y2="602.00" stroke="#008000" stroke-width="3.47" stroke-linecap="square"/>
<g transform="scale(1,1.054286)" font-size="30.56">
<text x="113.60" y="654.09" text-anchor="middle">0</text>
<text x="216.82" y="654.09" text-anchor="middle">20</text>
<text x="320.04" y="654.09" text-anchor="middle">40</text>
<text x="423.26" y="654.09" text-anchor="middle">60</text>
<text x="526.48" y="654.09" text-anchor="middle">80</text>
<text x="629.70" y="654.09" text-anchor="middle">100</text>
<text x="732.92" y="654.09" text-anchor="middle">120</text>
<text x="836.14" y="654.09" text-anchor="middle">140</text>
<text x="939.36" y="654.09" text-anchor="middle">160</text>
<text y="200.53" font-size="22.40"><tspan x="5.3">6</tspan><tspan x="24.2">×</tspan><tspan x="47.45">10</tspan></text><text x="75.8" y="192.32" font-size="15.7">−2</text>
<text y="324.01" font-size="22.40"><tspan x="5.3">4</tspan><tspan x="24.2">×</tspan><tspan x="47.45">10</tspan></text><text x="75.8" y="315.80" font-size="15.7">−2</text>
<text y="411.62" font-size="22.40"><tspan x="5.3">3</tspan><tspan x="24.2">×</tspan><tspan x="47.45">10</tspan></text><text x="75.8" y="403.41" font-size="15.7">−2</text>
<text y="535.10" font-size="22.40"><tspan x="5.3">2</tspan><tspan x="24.2">×</tspan><tspan x="47.45">10</tspan></text><text x="75.8" y="526.90" font-size="15.7">−2</text>
<text y="693.08"><tspan x="536.1">t</tspan><tspan x="548.9">/</tspan><tspan x="559.3" font-style="italic">t</tspan></text><text x="571.5" y="698.10" font-style="italic" font-size="21.39">a</text>
<text y="27.41" font-style="italic" font-size="32"><tspan x="502.3">δ</tspan></text><text transform="translate(520.4,0) scale(1.15,1)" x="0" y="27.41" font-style="italic" font-size="32">ρ</text><text x="545.2" y="32.82" font-style="italic" font-size="25.5">rms</text>
<text y="440.30"><tspan x="453.70">1D</tspan><tspan x="508.00">y,</tspan><tspan x="546.00" font-style="italic">γt</tspan><tspan x="602.00">=</tspan><tspan x="627.60" letter-spacing="0.45">0.0253</tspan></text><text x="576.40" y="444.57" font-style="italic" font-size="21.39">a</text>
<text y="487.53"><tspan x="453.50">2D</tspan><tspan x="508.10">xy,</tspan><tspan x="563.70" font-style="italic">γt</tspan><tspan x="620.60">=</tspan><tspan x="646.00" letter-spacing="0.45">0.0236</tspan></text><text x="595.50" y="491.80" font-style="italic" font-size="21.39">a</text>
<text y="535.24"><tspan x="453.50">3D,</tspan><tspan x="515.70" font-style="italic">γt</tspan><tspan x="570.40">=</tspan><tspan x="596.60" letter-spacing="0.45">0.0237</tspan></text><text x="545.90" y="539.51" font-style="italic" font-size="21.39">a</text>
<text y="581.91"><tspan x="453.30">1D</tspan><tspan x="508.00">x,</tspan><tspan x="545.50" font-style="italic">γt</tspan><tspan x="601.70">=</tspan><tspan x="626.80" letter-spacing="0.45">0.0042</tspan></text><text x="576.40" y="586.18" font-style="italic" font-size="21.39">a</text>
</g>
</svg>
</body></html>
